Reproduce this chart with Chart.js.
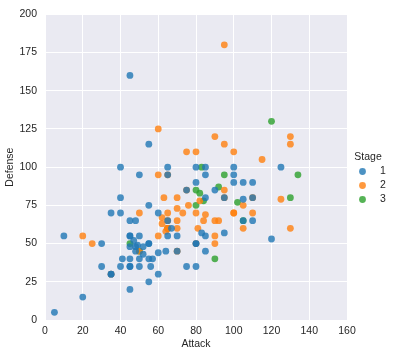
<!DOCTYPE html>
<html><head><meta charset="utf-8">
<script src="https://cdn.jsdelivr.net/npm/chart.js@4"></script>
<style>html,body{margin:0;padding:0;background:#fff}canvas{display:block}</style>
</head><body>
<canvas id="c" width="394" height="356"></canvas>
<script>
const stageLabels = ['1', '2', '3'];
const xTicks = [0, 20, 40, 60, 80, 100, 120, 140, 160];
const yTicks = [0, 25, 50, 75, 100, 125, 150, 175, 200];

const stage1Attack  = [49,52,48,30,35,45,56,60,60,55,75,47,57,45,41,45,45,50,70,55,55,45,52,80,70,50,20,80,75,40,80,85,65,35,65,85,45,80,65,35,45,48,105,30,40,50,120,105,55,65,85,5,55,95,40,67,45,45,110,50,83,95,125,100,10,85,48,55,60,40,80,105,110,85,90,100,64,110,100];
const stage1Defense = [49,43,65,35,30,40,35,30,44,40,85,52,40,48,40,20,35,55,55,50,25,35,48,35,45,40,15,50,35,35,100,55,65,70,55,45,55,50,100,30,160,45,90,50,80,95,53,79,75,95,95,5,115,80,70,60,55,65,80,35,57,57,100,95,55,80,48,50,70,100,90,65,65,100,85,90,45,90,100];

const stage2Attack  = [62,64,63,20,25,60,81,90,85,90,100,62,70,76,70,80,65,95,65,80,70,82,105,110,65,35,100,90,70,95,100,75,60,110,70,105,95,50,73,130,50,95,80,90,130,65,92,75,125,65,65,130,60,115,84];
const stage2Defense = [63,58,80,55,50,55,60,65,69,55,110,67,73,75,45,70,70,80,60,50,60,78,60,80,65,30,70,50,65,115,70,110,95,70,80,75,180,45,70,115,70,85,110,120,120,95,65,85,79,60,60,60,125,105,65];

const stage3Attack  = [82,84,83,45,90,80,92,102,80,95,50,130,105,120,65,134];
const stage3Defense = [83,78,100,50,40,75,87,77,85,95,45,80,65,130,60,95];

const stageColors = ['rgba(31,119,180,0.8)', 'rgba(255,127,14,0.8)', 'rgba(44,160,44,0.8)'];

function pts(xs, ys) { return xs.map((x, i) => ({x: x, y: ys[i]})); }

const FONT = '"Liberation Sans", Arial, sans-serif';
const TXT = '#262626';
const R = 3.4;

const bgPlugin = {
  id: 'bg',
  beforeDraw(chart) {
    const {ctx, chartArea: a} = chart;
    ctx.save();
    ctx.fillStyle = '#EAEAF2';
    ctx.fillRect(a.left, a.top, a.right - a.left, a.bottom - a.top);
    ctx.restore();
  }
};

const legendPlugin = {
  id: 'customLegend',
  afterDraw(chart) {
    const ctx = chart.ctx;
    ctx.save();
    ctx.fillStyle = TXT;
    ctx.font = '10.5px ' + FONT;
    ctx.textAlign = 'center';
    ctx.textBaseline = 'middle';
    ctx.fillText('Stage', 368, 157);
    chart.data.datasets.forEach((ds, i) => {
      const y = 171.5 + i * 14;
      ctx.beginPath();
      ctx.arc(362.5, y, R, 0, Math.PI * 2);
      ctx.fillStyle = ds.backgroundColor;
      ctx.fill();
      ctx.fillStyle = TXT;
      ctx.font = '10.5px ' + FONT;
      ctx.fillText(ds.label, 383, y);
    });
    ctx.restore();
  }
};

new Chart(document.getElementById('c'), {
  type: 'scatter',
  data: {
    datasets: [
      {label: stageLabels[0], data: pts(stage1Attack, stage1Defense), backgroundColor: stageColors[0]},
      {label: stageLabels[1], data: pts(stage2Attack, stage2Defense), backgroundColor: stageColors[1]},
      {label: stageLabels[2], data: pts(stage3Attack, stage3Defense), backgroundColor: stageColors[2]}
    ].map(d => Object.assign(d, {pointRadius: R, pointHoverRadius: R, borderWidth: 0, pointBorderWidth: 0, borderColor: 'rgba(0,0,0,0)'}))
  },
  options: {
    responsive: false,
    devicePixelRatio: 1,
    animation: false,
    layout: {padding: {top: 10, right: 47, left: 0, bottom: 0}},
    plugins: {legend: {display: false}, tooltip: {enabled: false}},
    scales: {
      x: {
        type: 'linear', min: 0, max: 160,
        afterBuildTicks(s) { s.ticks = xTicks.map(v => ({value: v})); },
        afterFit(s) { s.height = 36; },
        grid: {color: '#ffffff', lineWidth: 1, drawTicks: false},
        border: {display: false},
        ticks: {color: TXT, font: {family: FONT, size: 10.5}, padding: 5},
        title: {display: true, text: 'Attack', color: TXT, font: {family: FONT, size: 10.5}, padding: {top: 0, bottom: 6}}
      },
      y: {
        type: 'linear', min: 0, max: 200,
        afterBuildTicks(s) { s.ticks = yTicks.map(v => ({value: v})); },
        afterFit(s) { s.width = 45; },
        grid: {color: '#ffffff', lineWidth: 1, drawTicks: false},
        border: {display: false},
        ticks: {color: TXT, font: {family: FONT, size: 10.5}, padding: 8},
        title: {display: true, text: 'Defense', color: TXT, font: {family: FONT, size: 10.5}, padding: {top: 4, bottom: 0}}
      }
    }
  },
  plugins: [bgPlugin, legendPlugin]
});
</script>
</body></html>
